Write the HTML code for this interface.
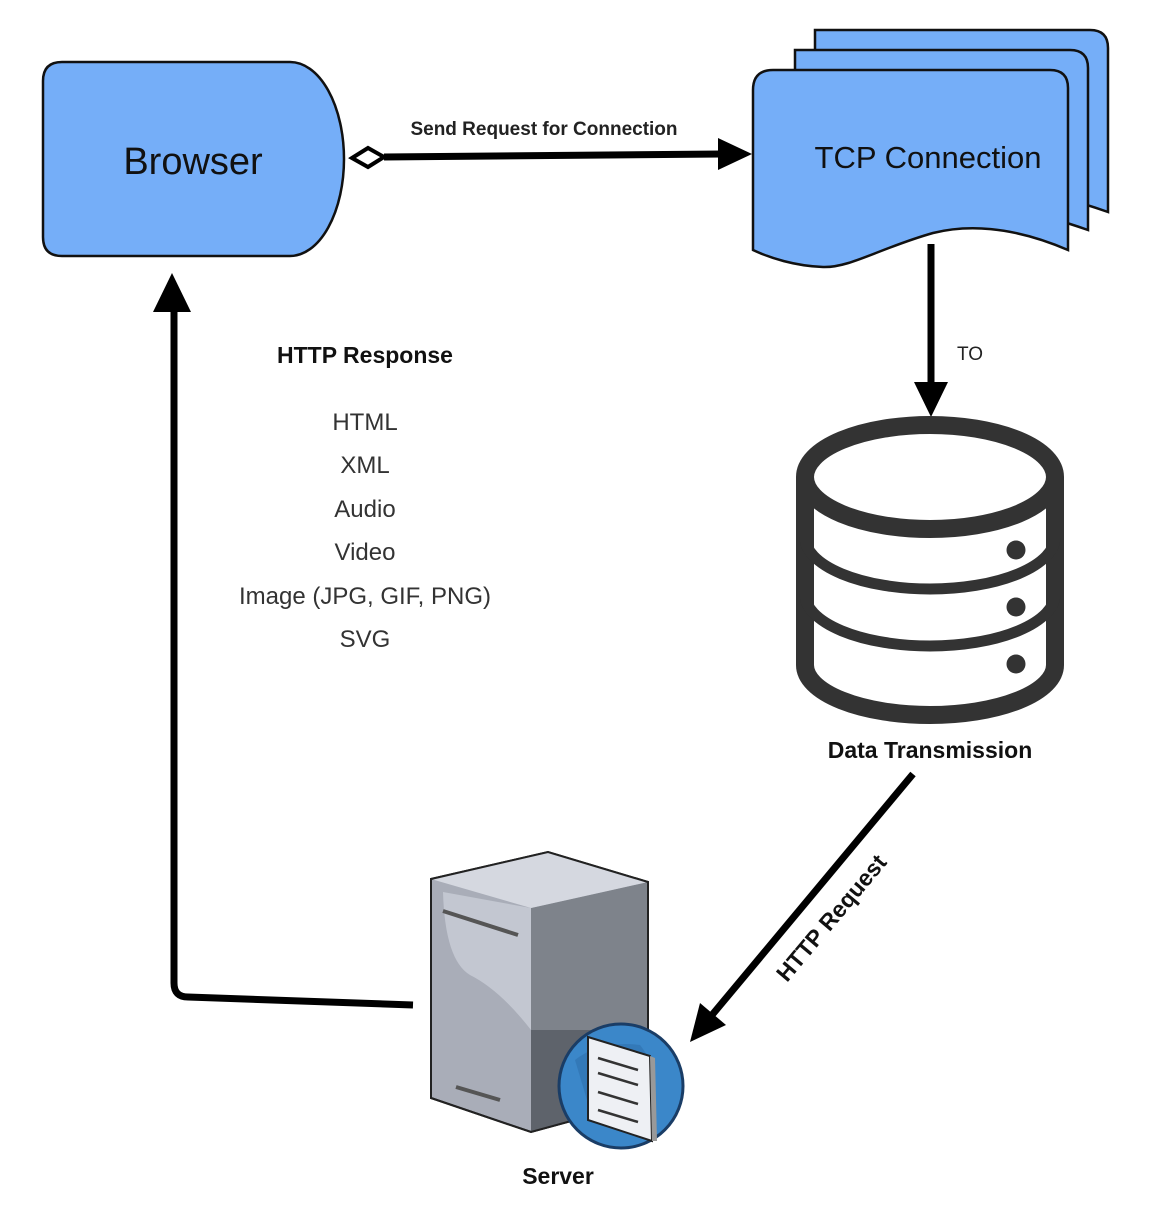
<!DOCTYPE html>
<html><head><meta charset="utf-8"><style>
html,body{margin:0;padding:0;background:#fff;}
svg{display:block;}
text{font-family:"Liberation Sans",Arial,sans-serif;}
</style></head><body>
<svg width="1154" height="1222" viewBox="0 0 1154 1222" xmlns="http://www.w3.org/2000/svg">
<rect width="1154" height="1222" fill="#fff"/>
<!-- Browser -->
<path d="M62,62 H290 A54,97 0 0 1 290,256 H62 Q43,256 43,237 V81 Q43,62 62,62 Z" fill="#75aef8" stroke="#111" stroke-width="2.5"/>
<text x="193" y="174" font-size="38" text-anchor="middle" fill="#111">Browser</text>
<!-- TCP stack -->
<path d="M815,30 H1090 Q1108,30 1108,48 V212 Q1060,195 1020,190 L815,190 Z" fill="#75aef8" stroke="#111" stroke-width="2.5"/>
<path d="M795,50 H1070 Q1088,50 1088,68 V230 Q1040,213 1000,208 L795,208 Z" fill="#75aef8" stroke="#111" stroke-width="2.5"/>
<path d="M773,70 H1050 Q1068,70 1068,88 V250 C1010,225 965,225 933,233 C880,248 850,268 823,267 C795,266 770,258 753,250 V90 Q753,70 773,70 Z" fill="#75aef8" stroke="#111" stroke-width="2.5"/>
<text x="928" y="168" font-size="31" text-anchor="middle" fill="#111">TCP Connection</text>
<!-- Send request connector -->
<line x1="384" y1="157" x2="722" y2="154" stroke="#000" stroke-width="7"/>
<polygon points="352,158 368,148 384,157 368,167" fill="#fff" stroke="#000" stroke-width="4"/>
<polygon points="752,154 718,138 718,170" fill="#000"/>
<text x="544" y="135" font-size="19" font-weight="bold" text-anchor="middle" fill="#222">Send Request for Connection</text>
<!-- TO connector -->
<line x1="931" y1="244" x2="931" y2="385" stroke="#000" stroke-width="7"/>
<polygon points="931,417 914,382 948,382" fill="#000"/>
<text x="970" y="360" font-size="19" text-anchor="middle" fill="#222">TO</text>
<!-- Database -->
<g fill="none" stroke="#333" stroke-width="18">
<ellipse cx="930" cy="477" rx="125" ry="52"/>
<path d="M805,477 V665 A125,50 0 0 0 1055,665 V477"/>
<path d="M805,537 A125,52 0 0 0 1055,537" stroke-width="11"/>
<path d="M805,594 A125,52 0 0 0 1055,594" stroke-width="11"/>
</g>
<circle cx="1016" cy="550" r="9.5" fill="#333"/>
<circle cx="1016" cy="607" r="9.5" fill="#333"/>
<circle cx="1016" cy="664" r="9.5" fill="#333"/>
<text x="930" y="758" font-size="23" font-weight="bold" text-anchor="middle" fill="#111">Data Transmission</text>
<!-- HTTP request connector -->
<line x1="913" y1="774" x2="712" y2="1015" stroke="#000" stroke-width="7"/>
<polygon points="690,1042 700,1003 726,1025" fill="#000"/>
<text x="0" y="0" font-size="23" font-weight="bold" fill="#111" transform="translate(787,983) rotate(-50)">HTTP Request</text>
<!-- Response connector -->
<path d="M413,1005 L188,997 Q174,997 174,983 V305" fill="none" stroke="#000" stroke-width="7"/>
<polygon points="172,273 153,312 191,312" fill="#000"/>
<text x="365" y="363" font-size="23" font-weight="bold" text-anchor="middle" fill="#111">HTTP Response</text>
<g font-size="24" fill="#333" text-anchor="middle">
<text x="365" y="430">HTML</text>
<text x="365" y="473">XML</text>
<text x="365" y="517">Audio</text>
<text x="365" y="560">Video</text>
<text x="365" y="604">Image (JPG, GIF, PNG)</text>
<text x="365" y="647">SVG</text>
</g>
<!-- Server -->
<path d="M431,879 L548,852 L648,882 L648,1100 L531,1132 L431,1098 Z" fill="#a9adb8" stroke="#222" stroke-width="2"/>
<path d="M531,908 L648,882 L648,1100 L531,1132 Z" fill="#7e838b"/>
<path d="M431,879 L548,852 L648,882 L531,908 Z" fill="#d5d8e0"/>
<path d="M443,892 Q445,960 470,975 Q500,990 531,1030 V908 Z" fill="#c3c7d1"/>
<path d="M531,1030 H648 V1100 L531,1132 Z" fill="#5e636b"/>
<path d="M431,879 L548,852 L648,882 L648,1100 L531,1132 L431,1098 Z" fill="none" stroke="#222" stroke-width="2"/>
<line x1="443" y1="911" x2="518" y2="935" stroke="#555" stroke-width="4"/>
<line x1="456" y1="1087" x2="500" y2="1100" stroke="#555" stroke-width="4"/>
<circle cx="621" cy="1086" r="62" fill="#3b87c9" stroke="#1a3d66" stroke-width="3"/>
<path d="M575,1060 Q600,1040 640,1045 Q660,1070 650,1100 Q620,1120 590,1110 Z" fill="#2f6fae" opacity="0.6"/>
<path d="M588,1037 L650,1056 L652,1141 L588,1120 Z" fill="#eef0f4" stroke="#222" stroke-width="2"/>
<path d="M650,1056 L655,1058 L657,1141 L652,1141 Z" fill="#999"/>
<g stroke="#333" stroke-width="2.5">
<line x1="598" y1="1058" x2="638" y2="1070"/>
<line x1="598" y1="1073" x2="638" y2="1085"/>
<line x1="598" y1="1092" x2="638" y2="1104"/>
<line x1="598" y1="1110" x2="638" y2="1122"/>
</g>
<text x="558" y="1184" font-size="23" font-weight="bold" text-anchor="middle" fill="#111">Server</text>
</svg>
</body></html>
